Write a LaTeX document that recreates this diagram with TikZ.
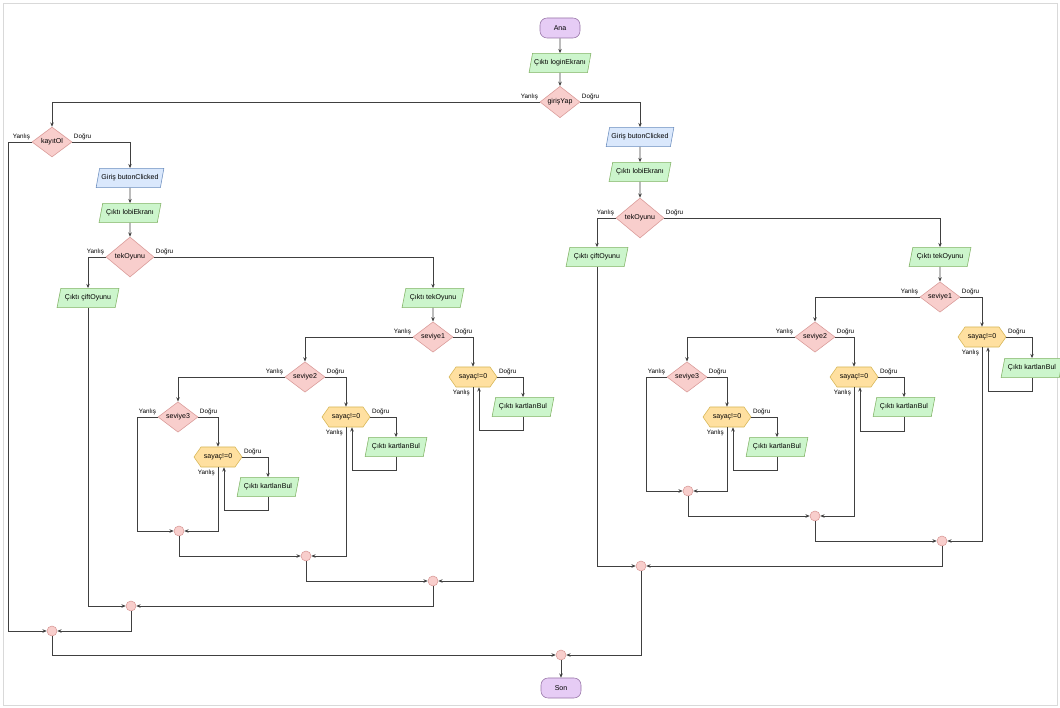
\documentclass[tikz,border=0pt]{standalone}
\usepackage{fontspec}
\setmainfont{Liberation Sans}
\usetikzlibrary{shapes.geometric,shapes.symbols,arrows.meta}
\definecolor{grfill}{HTML}{CCF5CC}\definecolor{grline}{HTML}{82B366}
\definecolor{blfill}{HTML}{DAE8FC}\definecolor{blline}{HTML}{6C8EBF}
\definecolor{pkfill}{HTML}{F8CECC}\definecolor{pkline}{HTML}{D99A98}
\definecolor{yefill}{HTML}{FFE0A0}\definecolor{yeline}{HTML}{D6B656}
\definecolor{pufill}{HTML}{E6CCF5}\definecolor{puline}{HTML}{9673A6}
\begin{document}
\begin{tikzpicture}[x=0.025cm,y=-0.025cm,
  every node/.style={font=\fontsize{5}{6}\selectfont, inner sep=1pt},
  term/.style={draw=puline, fill=pufill, rounded corners=5pt, minimum width=1cm, minimum height=0.5cm},
  io/.style={trapezium, trapezium left angle=70, trapezium right angle=110, trapezium stretches=true,
    draw=grline, fill=grfill, minimum width=1.55cm, minimum height=0.48cm},
  inp/.style={io, draw=blline, fill=blfill, minimum width=1.7cm},
  dec/.style={diamond, draw=pkline, fill=pkfill, inner sep=0, minimum width=1cm, minimum height=0.75cm},
  big/.style={dec, minimum width=1.2cm, minimum height=1cm},
  hex/.style={signal, signal to=west and east, signal pointer angle=110, draw=yeline, fill=yefill,
    minimum width=1.2cm, minimum height=0.5cm},
  mrg/.style={circle, draw=pkline, fill=pkfill, minimum size=0.25cm, inner sep=0},
  lbl/.style={font=\fontsize{4.5}{5}\selectfont},
  ar/.style={draw=black!75, line width=0.6pt, -{Stealth[length=3pt,width=2.5pt]}},
  ln/.style={draw=black!75, line width=0.6pt}]
\useasboundingbox (0,0) rectangle (1060,708);
\draw[black!15] (3,3) rectangle (1057,705);

% top
\node[term] (ana) at (560,28) {Ana};
\node[io] (login) at (560,63) {Çıktı loginEkranı};
\node[dec] (gy) at (560,102) {girişYap};
\node[lbl, above left] at (gy.west) {Yanlış};
\node[lbl, above right] at (gy.east) {Doğru};
\draw[ar] (ana) -- (login);
\draw[ar] (login) -- (gy);

% left side
\node[dec] (ko) at (52,142) {kayıtOl};
\node[lbl, above left] at (ko.west) {Yanlış};
\node[lbl, above right] at (ko.east) {Doğru};
\node[inp] (gbL) at (130,178) {Giriş butonClicked};
\node[io] (lobL) at (130,213) {Çıktı lobiEkranı};
\node[big] (toL) at (130,257) {tekOyunu};
\node[lbl, above left] at (toL.west) {Yanlış};
\node[lbl, above right] at (toL.east) {Doğru};
\node[io] (ciftL) at (88,298) {Çıktı çiftOyunu};
\node[io] (tekL) at (433,298) {Çıktı tekOyunu};
\draw[ar] (gy.west) -| (ko.north);
\draw[ar] (ko.east) -| (gbL.north);
\draw[ar] (gbL) -- (lobL);
\draw[ar] (lobL) -- (toL);
\draw[ar] (toL.west) -| (ciftL.north);
\draw[ar] (toL.east) -| (tekL.north);

\node[dec] (s1L) at (433,337) {seviye1};
\node[dec] (s2L) at (305,377) {seviye2};
\node[dec] (s3L) at (178,417) {seviye3};
\node[hex] (h1L) at (473,377) {sayaç!=0};
\node[hex] (h2L) at (346,417) {sayaç!=0};
\node[hex] (h3L) at (218,457) {sayaç!=0};
\node[io] (k1L) at (523,407) {Çıktı kartlarıBul};
\node[io] (k2L) at (396,447) {Çıktı kartlarıBul};
\node[io] (k3L) at (268,487) {Çıktı kartlarıBul};
\node[mrg] (m3L) at (179,531) {};
\node[mrg] (m2L) at (306,556) {};
\node[mrg] (m1L) at (433,581) {};
\node[mrg] (mcL) at (131,606) {};
\node[mrg] (mkL) at (52,631) {};
\foreach \n in {s1L,s2L,s3L}{
  \node[lbl, above left] at (\n.west) {Yanlış};
  \node[lbl, above right] at (\n.east) {Doğru};}
\foreach \n in {h1L,h2L,h3L}{
  \node[lbl, above right] at (\n.east) {Doğru};
  \node[lbl, anchor=north east] at ([xshift=-1pt,yshift=-1pt]\n.south) {Yanlış};}
\draw[ar] (tekL) -- (s1L);
\draw[ar] (s1L.west) -| (s2L.north);
\draw[ar] (s1L.east) -| (h1L.north);
\draw[ar] (s2L.west) -| (s3L.north);
\draw[ar] (s2L.east) -| (h2L.north);
\draw[ar] (s3L.east) -| (h3L.north);
\draw[ar] (h1L.east) -| (k1L.north);
\draw[ar] (h2L.east) -| (k2L.north);
\draw[ar] (h3L.east) -| (k3L.north);
\draw[ar] (k1L.south) -- ++(0,14) -| ([xshift=0.15cm]h1L.south);
\draw[ar] (k2L.south) -- ++(0,14) -| ([xshift=0.15cm]h2L.south);
\draw[ar] (k3L.south) -- ++(0,14) -| ([xshift=0.15cm]h3L.south);
\draw[ar] (s3L.west) -- ++(-20,0) |- (m3L.west);
\draw[ar] (h3L.south) |- (m3L.east);
\draw[ar] (m3L.south) |- (m2L.west);
\draw[ar] (h2L.south) |- (m2L.east);
\draw[ar] (m2L.south) |- (m1L.west);
\draw[ar] (h1L.south) |- (m1L.east);
\draw[ar] (ciftL.south) |- (mcL.west);
\draw[ar] (m1L.south) |- (mcL.east);
\draw[ar] (ko.west) -- ++(-23,0) |- (mkL.west);
\draw[ar] (mcL.south) |- (mkL.east);

% right side
\node[inp] (gbR) at (640,137) {Giriş butonClicked};
\node[io] (lobR) at (640,172) {Çıktı lobiEkranı};
\node[big] (toR) at (640,218) {tekOyunu};
\node[lbl, above left] at (toR.west) {Yanlış};
\node[lbl, above right] at (toR.east) {Doğru};
\node[io] (ciftR) at (597,257) {Çıktı çiftOyunu};
\node[io] (tekR) at (940,257) {Çıktı tekOyunu};
\draw[ar] (gy.east) -| (gbR.north);
\draw[ar] (gbR) -- (lobR);
\draw[ar] (lobR) -- (toR);
\draw[ar] (toR.west) -| (ciftR.north);
\draw[ar] (toR.east) -| (tekR.north);

\node[dec] (s1R) at (940,297) {seviye1};
\node[dec] (s2R) at (815,337) {seviye2};
\node[dec] (s3R) at (687,377) {seviye3};
\node[hex] (h1R) at (982,337) {sayaç!=0};
\node[hex] (h2R) at (854,377) {sayaç!=0};
\node[hex] (h3R) at (727,417) {sayaç!=0};
\node[io] (k1R) at (1032,368) {Çıktı kartlarıBul};
\node[io] (k2R) at (904,407) {Çıktı kartlarıBul};
\node[io] (k3R) at (777,447) {Çıktı kartlarıBul};
\node[mrg] (m3R) at (688,491) {};
\node[mrg] (m2R) at (815,516) {};
\node[mrg] (m1R) at (942,541) {};
\node[mrg] (mcR) at (641,566) {};
\foreach \n in {s1R,s2R,s3R}{
  \node[lbl, above left] at (\n.west) {Yanlış};
  \node[lbl, above right] at (\n.east) {Doğru};}
\foreach \n in {h1R,h2R,h3R}{
  \node[lbl, above right] at (\n.east) {Doğru};
  \node[lbl, anchor=north east] at ([xshift=-1pt,yshift=-1pt]\n.south) {Yanlış};}
\draw[ar] (tekR) -- (s1R);
\draw[ar] (s1R.west) -| (s2R.north);
\draw[ar] (s1R.east) -| (h1R.north);
\draw[ar] (s2R.west) -| (s3R.north);
\draw[ar] (s2R.east) -| (h2R.north);
\draw[ar] (s3R.east) -| (h3R.north);
\draw[ar] (h1R.east) -| (k1R.north);
\draw[ar] (h2R.east) -| (k2R.north);
\draw[ar] (h3R.east) -| (k3R.north);
\draw[ar] (k1R.south) -- ++(0,14) -| ([xshift=0.15cm]h1R.south);
\draw[ar] (k2R.south) -- ++(0,15) -| ([xshift=0.15cm]h2R.south);
\draw[ar] (k3R.south) -- ++(0,14) -| ([xshift=0.15cm]h3R.south);
\draw[ar] (s3R.west) -- ++(-20,0) |- (m3R.west);
\draw[ar] (h3R.south) |- (m3R.east);
\draw[ar] (m3R.south) |- (m2R.west);
\draw[ar] (h2R.south) |- (m2R.east);
\draw[ar] (m2R.south) |- (m1R.west);
\draw[ar] (h1R.south) |- (m1R.east);
\draw[ar] (ciftR.south) |- (mcR.west);
\draw[ar] (m1R.south) |- (mcR.east);

% end
\node[mrg] (mf) at (561,655) {};
\node[term] (son) at (561,688) {Son};
\draw[ar] (mkL.south) |- (mf.west);
\draw[ar] (mcR.south) |- (mf.east);
\draw[ar] (mf) -- (son);
\end{tikzpicture}
\end{document}
